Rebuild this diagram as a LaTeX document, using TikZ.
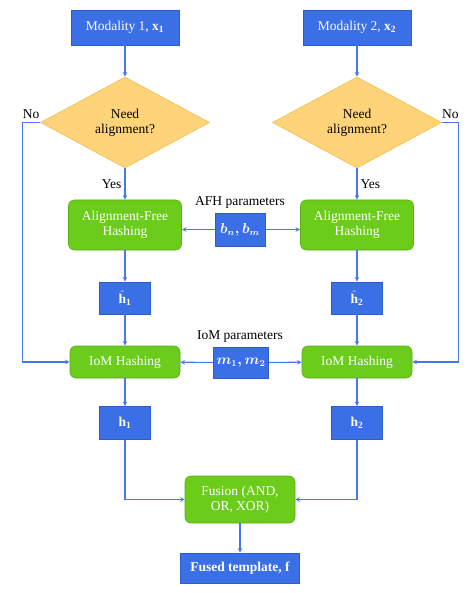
\documentclass[tikz,border=0pt]{standalone}
\usepackage{amsmath, amssymb}
\usepackage{fontspec}
\setmainfont{Liberation Serif}
\usetikzlibrary{positioning, calc, shapes.geometric}
\definecolor{BoxBlue}{HTML}{3B6FE6}
\definecolor{BoxBlueEdge}{HTML}{2E5CC9}
\definecolor{HashGreen}{HTML}{6CCC1C}
\definecolor{HashGreenEdge}{HTML}{58AC16}
\definecolor{QueryGold}{HTML}{FFD37A}
\definecolor{QueryGoldEdge}{HTML}{F0C050}
\definecolor{FlowBlue}{HTML}{4677EE}

\begin{document}
\begin{tikzpicture}[
    x=1pt, y=-1pt,
    font=\fontsize{13.5}{15}\selectfont,
    datum/.style={rectangle, draw=BoxBlueEdge, fill=BoxBlue, text=white, align=center, line width=0.6pt, inner sep=0pt},
    hashbox/.style={rectangle, draw=HashGreenEdge, fill=HashGreen, text=white, rounded corners=6pt, align=center, line width=0.6pt, inner sep=0pt},
    query/.style={diamond, draw=QueryGoldEdge, fill=QueryGold, align=center, inner sep=0pt, minimum width=169pt, minimum height=91pt, line width=0.6pt},
    flow/.style={->, >=stealth, line width=1.1pt, FlowBlue},
    tag/.style={text=black, inner sep=3pt}
  ]
    \useasboundingbox (0,0) rectangle (474,593);

    % Inputs and decisions
    \node (mod1) [datum, minimum width=108pt, minimum height=35pt] at (125,27.5) {Modality 1, $\mathbf{x}_{\mathbf{1}}$};
    \node (mod2) [datum, minimum width=108pt, minimum height=35pt] at (357,27.5) {Modality 2, $\mathbf{x}_{\mathbf{2}}$};
    \node (need1) [query] at (125,122.5) {Need\\alignment?};
    \node (need2) [query] at (357,122.5) {Need\\alignment?};

    % Alignment-free stage
    \node (afh1) [hashbox, minimum width=113pt, minimum height=50pt] at (125,225) {Alignment-Free\\Hashing};
    \node (afh2) [hashbox, minimum width=113pt, minimum height=50pt] at (357,225) {Alignment-Free\\Hashing};
    \node (afhpar) [datum, minimum width=50pt, minimum height=33pt] at (240,229.5) {$\boldsymbol{b_n, b_m}$};
    \node (afhlbl) at (240,202) {AFH parameters};
    \node (hhat1) [datum, minimum width=51pt, minimum height=32pt] at (125,298) {$\hat{\mathbf{h}}_{\mathbf{1}}$};
    \node (hhat2) [datum, minimum width=51pt, minimum height=32pt] at (357,298) {$\hat{\mathbf{h}}_{\mathbf{2}}$};

    % IoM stage
    \node (iom1) [hashbox, minimum width=110pt, minimum height=32pt] at (125,362) {IoM Hashing};
    \node (iom2) [hashbox, minimum width=110pt, minimum height=32pt] at (357,362) {IoM Hashing};
    \node (iompar) [datum, minimum width=55pt, minimum height=31pt] at (241,362.5) {$\boldsymbol{m_1, m_2}$};
    \node (iomlbl) at (240,337) {IoM parameters};
    \node (h1) [datum, minimum width=51pt, minimum height=33pt] at (125,423) {$\mathbf{h}_{\mathbf{1}}$};
    \node (h2) [datum, minimum width=51pt, minimum height=33pt] at (357,423) {$\mathbf{h}_{\mathbf{2}}$};

    % Fusion
    \node (fusion) [hashbox, minimum width=110pt, minimum height=47pt] at (240,499.5) {Fusion (AND,\\OR, XOR)};
    \node (fused) [datum, minimum width=119pt, minimum height=30pt] at (240,568) {\bfseries Fused template, $\mathbf{f}$};

    % Arrows
    \draw [flow] (mod1) -- (need1);
    \draw [flow] (mod2) -- (need2);
    \draw [flow] (need1) -- node[tag, left] {Yes} (afh1);
    \draw [flow] (need2) -- node[tag, right] {Yes} (afh2);
    \draw [flow] (need1.west) -- node[tag, above] {No} ++(-18,0) |- (iom1.west);
    \draw [flow] (need2.east) -- node[tag, above] {No} ++(17,0) |- (iom2.east);
    \draw [flow] (afhpar.west) -- (afhpar.west -| afh1.east);
    \draw [flow] (afhpar.east) -- (afhpar.east -| afh2.west);
    \draw [flow] (afh1) -- (hhat1);
    \draw [flow] (afh2) -- (hhat2);
    \draw [flow] (hhat1) -- (iom1);
    \draw [flow] (hhat2) -- (iom2);
    \draw [flow] (iompar) -- (iom1);
    \draw [flow] (iompar) -- (iom2);
    \draw [flow] (iom1) -- (h1);
    \draw [flow] (iom2) -- (h2);
    \draw [flow] (h1) |- (fusion.west);
    \draw [flow] (h2) |- (fusion.east);
    \draw [flow] (fusion) -- (fused);
  \end{tikzpicture}
\end{document}
